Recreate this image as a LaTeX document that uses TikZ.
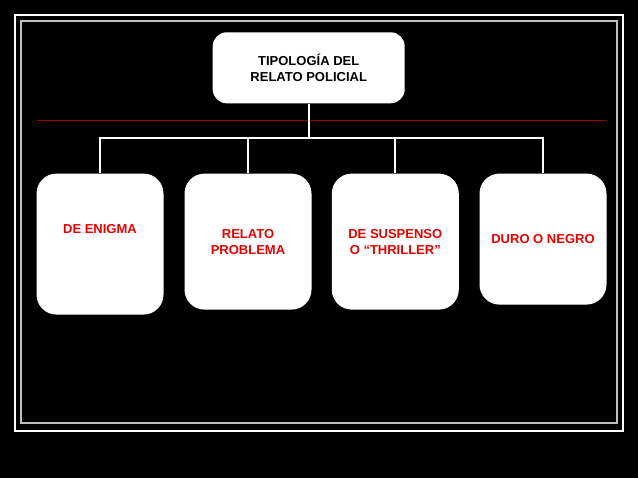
\documentclass[tikz,border=0pt]{standalone}
\usepackage{fontspec}
\setmainfont{Liberation Sans}
\usetikzlibrary{positioning}
\definecolor{linered}{RGB}{150,0,0}
\definecolor{textred}{RGB}{235,0,0}

\begin{document}
\begin{tikzpicture}[x=1pt,y=-1pt,font=\fontsize{13}{16}\selectfont\bfseries,semithick]
  \tikzstyle{box}=[fill=white,draw=none,rounded corners=20pt,inner sep=0pt,minimum width=127pt,anchor=north]
  \tikzstyle{conn}=[draw=white,line width=1.8pt]
  \tikzstyle{lbl}=[text=textred,align=center]

  % background and frame
  \fill[black] (0,0) rectangle (638,478);
  \draw[white,line width=2.2pt] (15,15) rectangle (623,431);
  \draw[white!75!black,line width=1.2pt] (21,21) rectangle (617,423);
  \draw[linered,line width=1pt] (37,120.3) -- (606,120.3);

  \node[box,rounded corners=14pt,minimum width=192pt,minimum height=71pt,align=center] (r0) at (308.7,32) {TIPOLOGÍA DEL\\RELATO POLICIAL};
  \node[box,minimum height=141pt] (r1) at (100,173.3) {};
  \node[box,minimum height=136pt,lbl] (r2) at (248,173.3) {RELATO\\PROBLEMA};
  \node[box,minimum height=136pt,lbl] (r3) at (395.3,173.3) {DE SUSPENSO\\O “THRILLER”};
  \node[box,minimum height=131pt,lbl] (r4) at (543,173.3) {DURO O NEGRO};
  \node[lbl] (l1) at (100,228.7) {DE ENIGMA};

  \coordinate (bus) at (308.7,137.7);
  \path[conn]
  (r0) -- (bus)
  (bus) -| (r1)
  (bus) -| (r2)
  (bus) -| (r3)
  (bus) -| (r4);
\end{tikzpicture}
\end{document}
